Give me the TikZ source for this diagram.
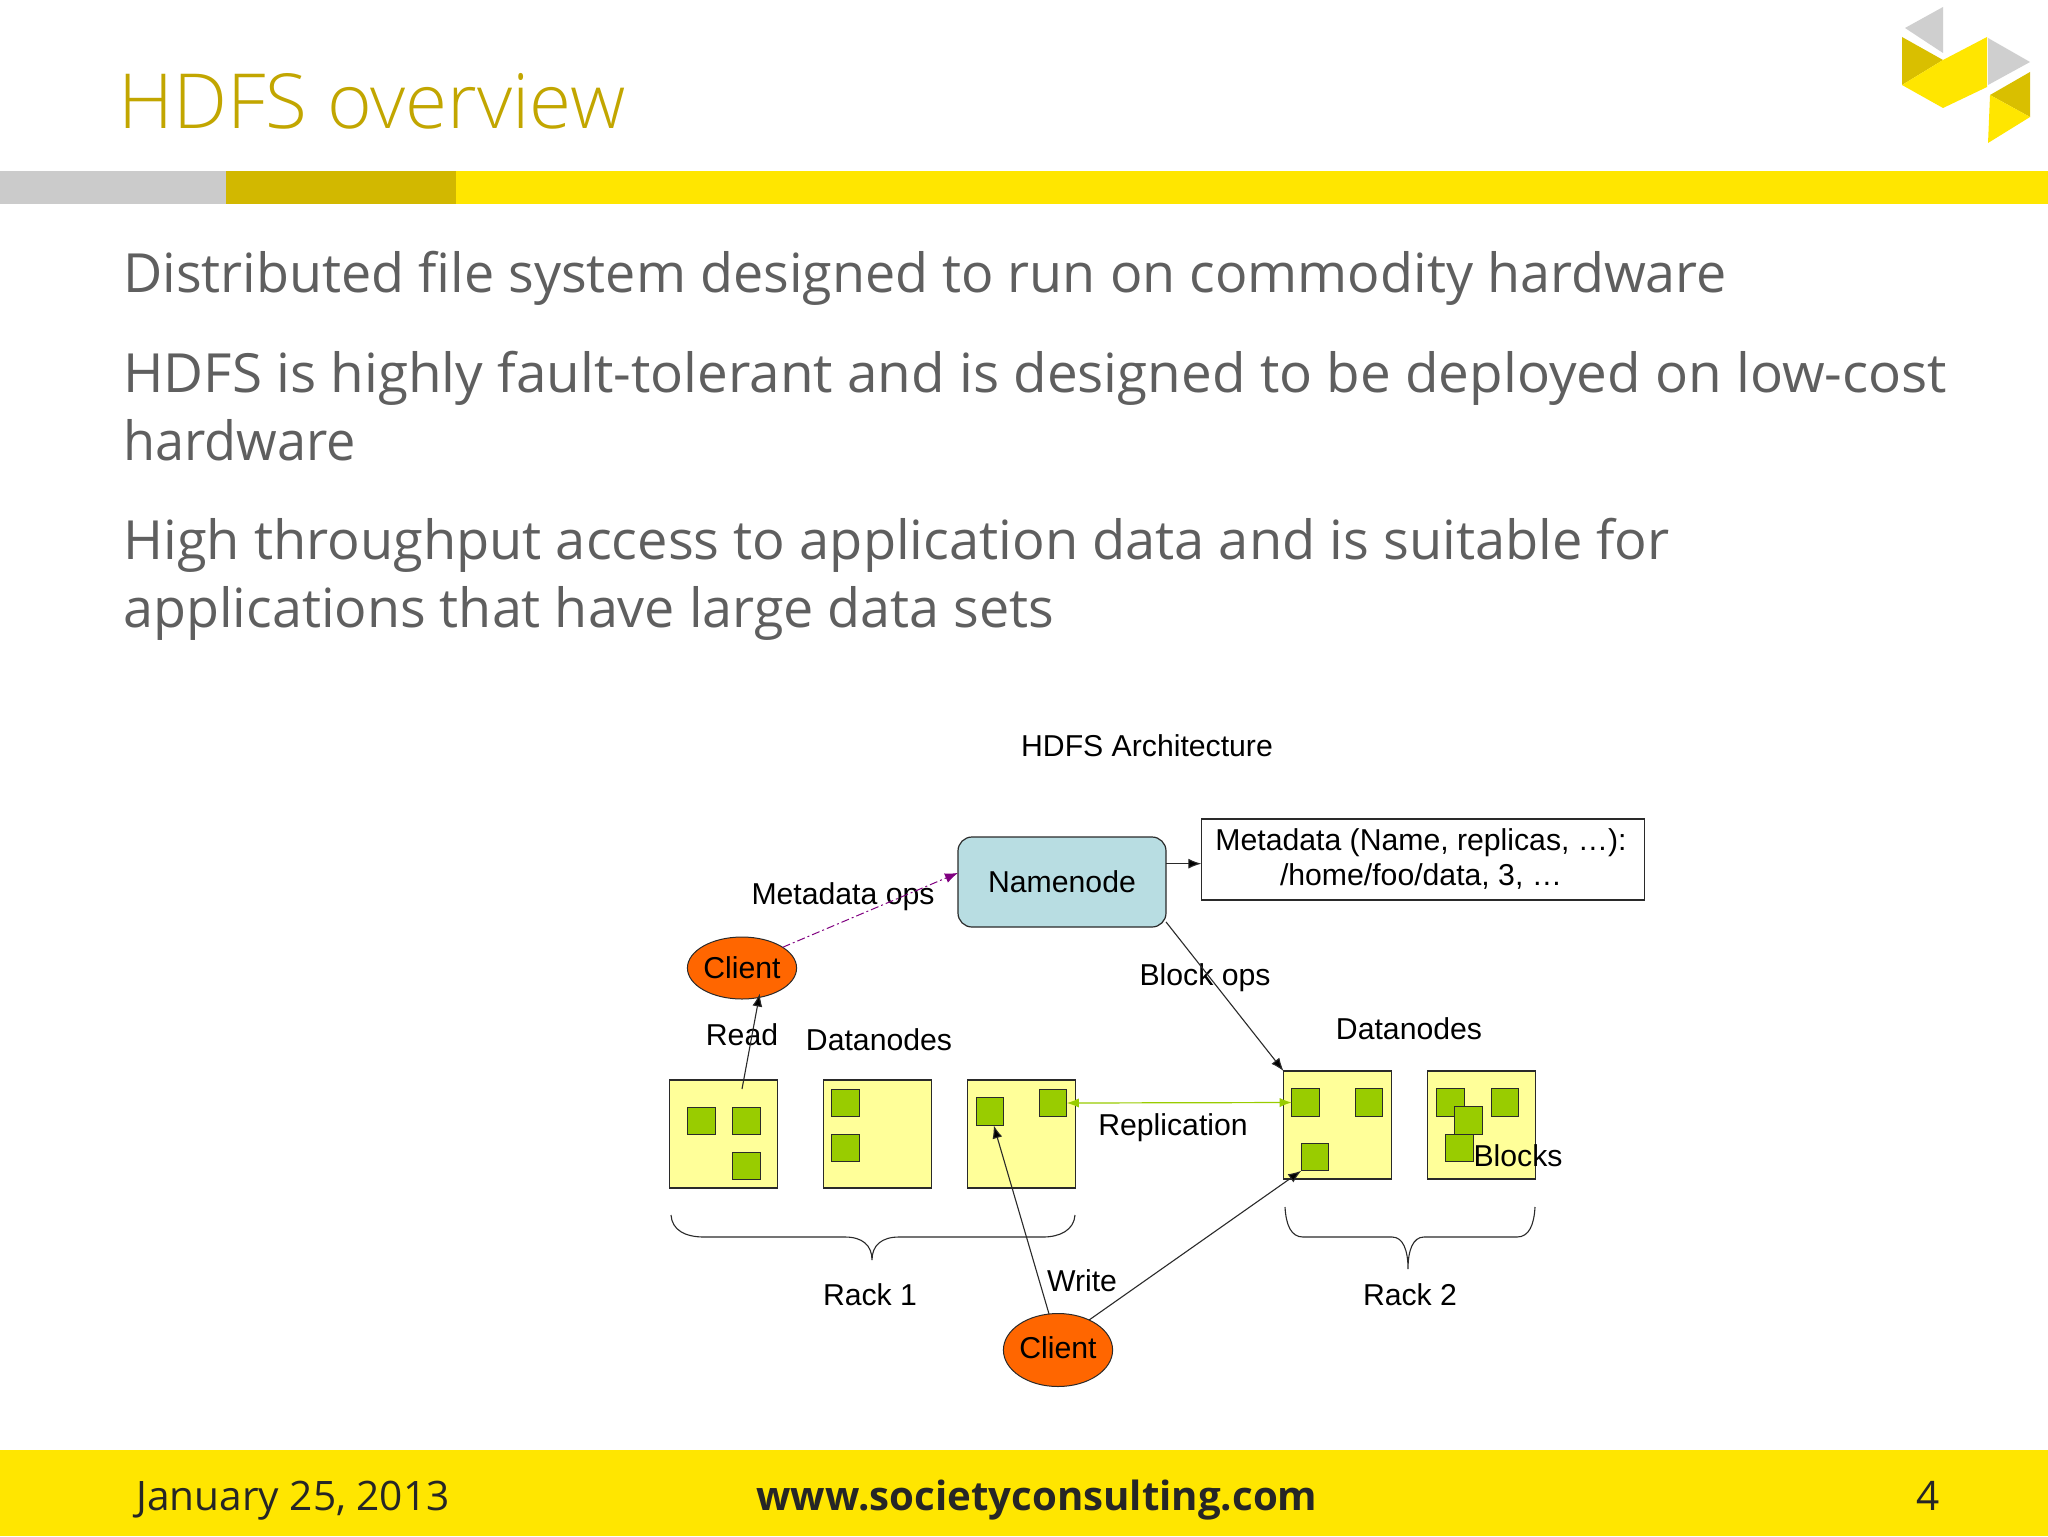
\documentclass[tikz,border=0pt]{standalone}
\usepackage{fontspec}
\usepackage{graphicx}
\setmainfont{Open Sans}
\newfontfamily\archfont{Liberation Sans}
\newfontfamily\titlefont{Open Sans Light}
\usetikzlibrary{arrows.meta,shapes.geometric}
\definecolor{slidegray}{HTML}{CBCBCB}
\definecolor{slidedark}{HTML}{D2B800}
\definecolor{slideyellow}{HTML}{FFE600}
\definecolor{titlecol}{HTML}{C2A600}
\definecolor{bodycol}{HTML}{5F5F5F}
\definecolor{rackfill}{HTML}{FFFF99}
\definecolor{blockfill}{HTML}{99CC00}
\definecolor{namefill}{HTML}{B8DDE2}
\definecolor{clientfill}{HTML}{FF6600}
\definecolor{linecol}{HTML}{2A2A2A}
\definecolor{logodark}{HTML}{D9BF00}
\definecolor{logogray}{HTML}{CFCFCF}
\definecolor{opsviolet}{HTML}{800080}
\tikzset{
  titletext/.style={anchor=base west,inner sep=0,text=titlecol,font=\titlefont\fontsize{38}{38}\selectfont},
  bodytext/.style={anchor=base west,inner sep=0,text=bodycol,font=\fontsize{27}{27}\selectfont},
  foottext/.style={inner sep=0,text=black!85,font=\fontsize{20.3}{20}\selectfont},
  lab/.style={inner sep=0,text=black,font=\archfont\fontsize{15.1}{17}\selectfont,align=center},
  rack/.style={draw=linecol,line width=.6pt,fill=rackfill,minimum width=54pt,minimum height=54pt,inner sep=0,outer sep=0},
  block/.style={draw=linecol,line width=.6pt,fill=blockfill,minimum width=13.8pt,minimum height=13.8pt,inner sep=0,outer sep=0},
  client/.style={ellipse,draw=linecol,line width=.5pt,fill=clientfill,inner sep=0,outer sep=0,text=black,font=\archfont\fontsize{15.1}{17}\selectfont},
  conn/.style={draw=linecol,line width=.55pt,-{Latex[length=6.5pt,width=5pt,fill=black]}},
  bracecurve/.style={draw=linecol,line width=.55pt}
}
\begin{document}
\begin{tikzpicture}[x=0.5pt,y=-0.5pt]
\useasboundingbox (0,0) rectangle (2048,1536);
\fill[white] (0,0) rectangle (2048,1536);
% header bars
\fill[slidegray] (0,171) rectangle (226,204);
\fill[slidedark] (226,171) rectangle (456,204);
\fill[slideyellow] (456,171) rectangle (2048,204);
\fill[slideyellow] (0,1450) rectangle (2048,1536);
% logo
\fill[logogray] (1943,7) -- (1905,28) -- (1943,53) -- cycle;
\fill[logodark] (1902,37) -- (1902,85) -- (1943,60) -- cycle;
\fill[slideyellow] (1902,85) -- (1943,60) -- (1987,37) -- (1987,87) -- (1943,108) -- cycle;
\fill[logogray] (1988,38) -- (2030,62) -- (1988,85) -- cycle;
\fill[logodark] (2030,72) -- (2030,117) -- (1990,95) -- cycle;
\fill[slideyellow] (1990,95) -- (2030,117) -- (1988,143) -- cycle;
% texts
\node[titletext] (title) at (118,128) {\scalebox{1.006}[1]{HDFS overview}};
\node[bodytext] (l1) at (123,292) {\scalebox{.997}[1]{Distributed file system designed to run on commodity hardware}};
\node[bodytext] (l2) at (123,392) {\scalebox{1.015}[1]{HDFS is highly fault-tolerant and is designed to be deployed on low-cost}};
\node[bodytext] (l3) at (123,460) {\scalebox{.967}[1]{hardware}};
\node[bodytext] (l4) at (123,559) {\scalebox{1.003}[1]{High throughput access to application data and is suitable for}};
\node[bodytext] (l5) at (123,627) {\scalebox{.997}[1]{applications that have large data sets}};
\node[foottext,anchor=base west] (date) at (136,1510) {January 25, 2013};
\node[foottext,anchor=base,font=\bfseries\fontsize{20.1}{20}\selectfont] (web) at (1037,1510) {www.societyconsulting.com};
\node[foottext,anchor=base] (page) at (1928,1510) {4};
% diagram
\node[lab] (arch) at (1147,746) {HDFS Architecture};
\node[draw=linecol,line width=.6pt,fill=namefill,rounded corners=7pt,minimum width=104pt,minimum height=45pt,inner sep=0,outer sep=0,font=\archfont\fontsize{15.1}{17}\selectfont] (nn) at (1062,882) {\raisebox{.5pt}{Namenode}};
\node[draw=linecol,line width=.6pt,fill=white,minimum width=221.7pt,minimum height=40.5pt,inner sep=0,outer sep=0] (meta) at (1423,859.5) {};
\node[lab] (meta1) at (1421,843) {Metadata (Name, replicas, \dots):};
\node[lab] (meta2) at (1421,876) {/home/foo/data, 3, \dots};
\node[client,minimum width=54.5pt,minimum height=31pt] (c1) at (742,968) {Client};
\node[client,minimum width=54pt,minimum height=36.5pt] (c2) at (1058,1350) {\raisebox{2pt}{Client}};
% racks
\node[rack] (r1) at (723.5,1134) {};
\node[rack] (r2) at (877.5,1134) {};
\node[rack] (r3) at (1021.5,1134) {};
\node[rack] (r4) at (1337.5,1125) {};
\node[rack] (r5) at (1481.5,1125) {};
% blocks
\node[block] (r1a) at (701.5,1121) {};
\node[block] (r1b) at (746.5,1121) {};
\node[block] (r1c) at (746.5,1166) {};
\node[block] (r2a) at (845.5,1103) {};
\node[block] (r2b) at (845.5,1148) {};
\node[block] (r3a) at (990,1111.5) {};
\node[block] (r3b) at (1053,1103) {};
\node[block] (r4a) at (1305.5,1102.5) {};
\node[block] (r4b) at (1369,1102.5) {};
\node[block] (r4c) at (1315,1157) {};
\node[block] (r5a) at (1450.5,1102.5) {};
\node[block] (r5b) at (1505,1102.5) {};
\node[block] (r5d) at (1459.5,1148) {};
\node[block] (r5c) at (1468.5,1120.5) {};
% labels
\node[lab] (lmeta) at (843,897) {Metadata ops};
\node[lab] (lread) at (742,1035) {Read};
\node[lab] (ld1) at (879,1040) {Datanodes};
\node[lab] (lblock) at (1205,978) {Block ops};
\node[lab] (ld2) at (1409,1029) {Datanodes};
\node[lab] (lrep) at (1173,1128) {Replication};
\node[lab] (lblocks) at (1518,1156) {Blocks};
\node[lab] (lwrite) at (1082,1281) {Write};
\node[lab] (lr1) at (870,1295) {Rack 1};
\node[lab] (lr2) at (1410,1295) {Rack 2};
% connectors
\coordinate (readstart) at (742,1089);
\draw[conn,shorten >=-2pt] (readstart) -- (c1.-60);
\draw[draw=opsviolet,line width=.5pt,dash pattern=on 4pt off 1.5pt on 1pt off 1.5pt,-{Latex[length=6.5pt,width=5pt,fill=opsviolet]}] (c1.27) -- (nn.175.7);
\draw[conn] (nn.10) -- (nn.10 -| meta.west);
\draw[conn] (nn.-21.5) -- (r4.north west);
\draw[draw=blockfill,line width=.6pt,{Latex[length=6pt,width=4.6pt]}-{Latex[length=6pt,width=4.6pt]}] (r3b.east) -- (r4a.west);
\draw[conn] (c2.104) -- (r3a.-75);
\draw[conn] (c2.44) -- (r4c.south west);
% braces
\draw[bracecurve] (671,1215) .. controls (672,1230) and (685,1237) .. (704,1237) -- (845,1237) .. controls (862,1237) and (872,1245) .. (872,1260) .. controls (872,1245) and (882,1237) .. (899,1237) -- (1043,1237) .. controls (1060,1237) and (1074,1230) .. (1075,1215);
\draw[bracecurve] (1285,1207) .. controls (1286,1225) and (1291,1237) .. (1303,1237) -- (1392,1237) .. controls (1403,1237) and (1408,1250) .. (1408,1269) .. controls (1408,1250) and (1413,1237) .. (1424,1237) -- (1517,1237) .. controls (1529,1237) and (1534,1225) .. (1535,1207);
\end{tikzpicture}
\end{document}
